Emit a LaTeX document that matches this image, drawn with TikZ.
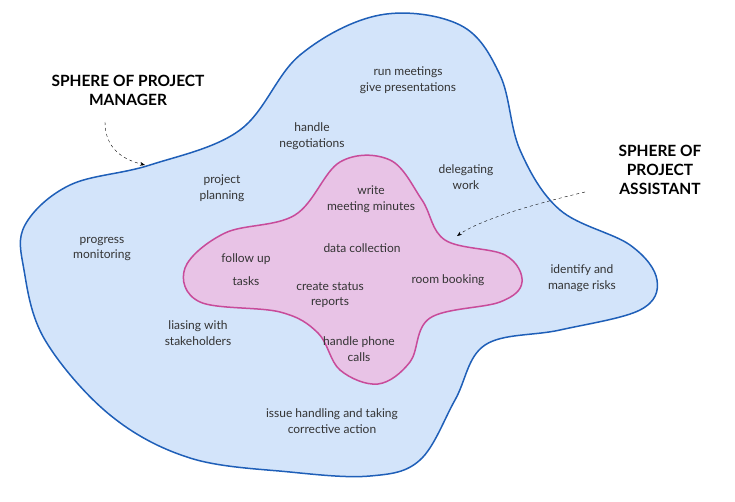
\documentclass[tikz,border=0pt]{standalone}
\usepackage{fontspec}
\setmainfont{Lato}
\usetikzlibrary{arrows.meta}
\definecolor{outerfill}{HTML}{D3E4FA}
\definecolor{outerline}{HTML}{1F5FB8}
\definecolor{innerfill}{HTML}{E8C3E6}
\definecolor{innerline}{HTML}{C84B9A}
\definecolor{txt}{HTML}{333333}
\tikzset{lbl/.style={text=txt,font=\fontsize{12}{15.5}\selectfont,align=center},
 head/.style={text=black,font=\bfseries\fontsize{15.5}{19}\selectfont,align=center},
 pointer/.style={dashed,-{Stealth[length=5pt]},thin}}
\begin{document}
\begin{tikzpicture}[x=1pt,y=-1pt]
\useasboundingbox (0,0) rectangle (735,501);
\draw[outerline,fill=outerfill,line width=1.5pt] plot[smooth cycle,tension=0.6] coordinates{
(25,225)(70,185)(150,165)(240,130)(300,55)(380,15)(460,25)(500,75)(520,150)(560,210)(630,245)(657,280)(640,310)(560,330)(485,345)(455,400)(420,460)(370,476)(290,472)(190,458)(110,415)(45,340)(24,270)};
\draw[innerline,fill=innerfill,line width=1.5pt] plot[smooth cycle,tension=0.6] coordinates{
(185,268)(225,233)(295,215)(340,162)(390,160)(422,200)(445,240)(505,255)(522,282)(500,302)(430,318)(410,362)(378,384)(340,370)(318,333)(280,312)(200,302)};
\node[head] (pm) at (128,90) {SPHERE OF PROJECT\\MANAGER};
\node[head] (pa) at (660,170) {SPHERE OF\\PROJECT\\ASSISTANT};
\coordinate (pmt) at (145,165);
\coordinate (pat) at (457,236);
\draw[pointer] (105,122) .. controls (105,150) and (125,160) .. (pmt);
\draw[pointer] (585,192) .. controls (530,205) and (480,220) .. (pat);
\node[lbl] (a) at (408,80) {run meetings\\give presentations};
\node[lbl] (b) at (312,136) {handle\\negotiations};
\node[lbl] (c) at (222,188) {project\\planning};
\node[lbl] (d) at (466,177) {delegating\\work};
\node[lbl] (e) at (102,249) {progress\\monitoring};
\node[lbl] (f) at (582,278) {identify and\\manage risks};
\node[lbl] (g) at (198,333) {liasing with\\stakeholders};
\node[lbl] (h) at (332,421) {issue handling and taking\\corrective action};
\node[lbl] (i) at (371,199) {write\\meeting minutes};
\node[lbl] (j) at (362,248) {data collection};
\node[lbl] (k) at (246,259) {follow up};
\node[lbl] (l) at (246,281) {tasks};
\node[lbl] (m) at (448,280) {room booking};
\node[lbl] (n) at (330,295) {create status\\reports};
\node[lbl] (o) at (359,349) {handle phone\\calls};
\end{tikzpicture}
\end{document}
